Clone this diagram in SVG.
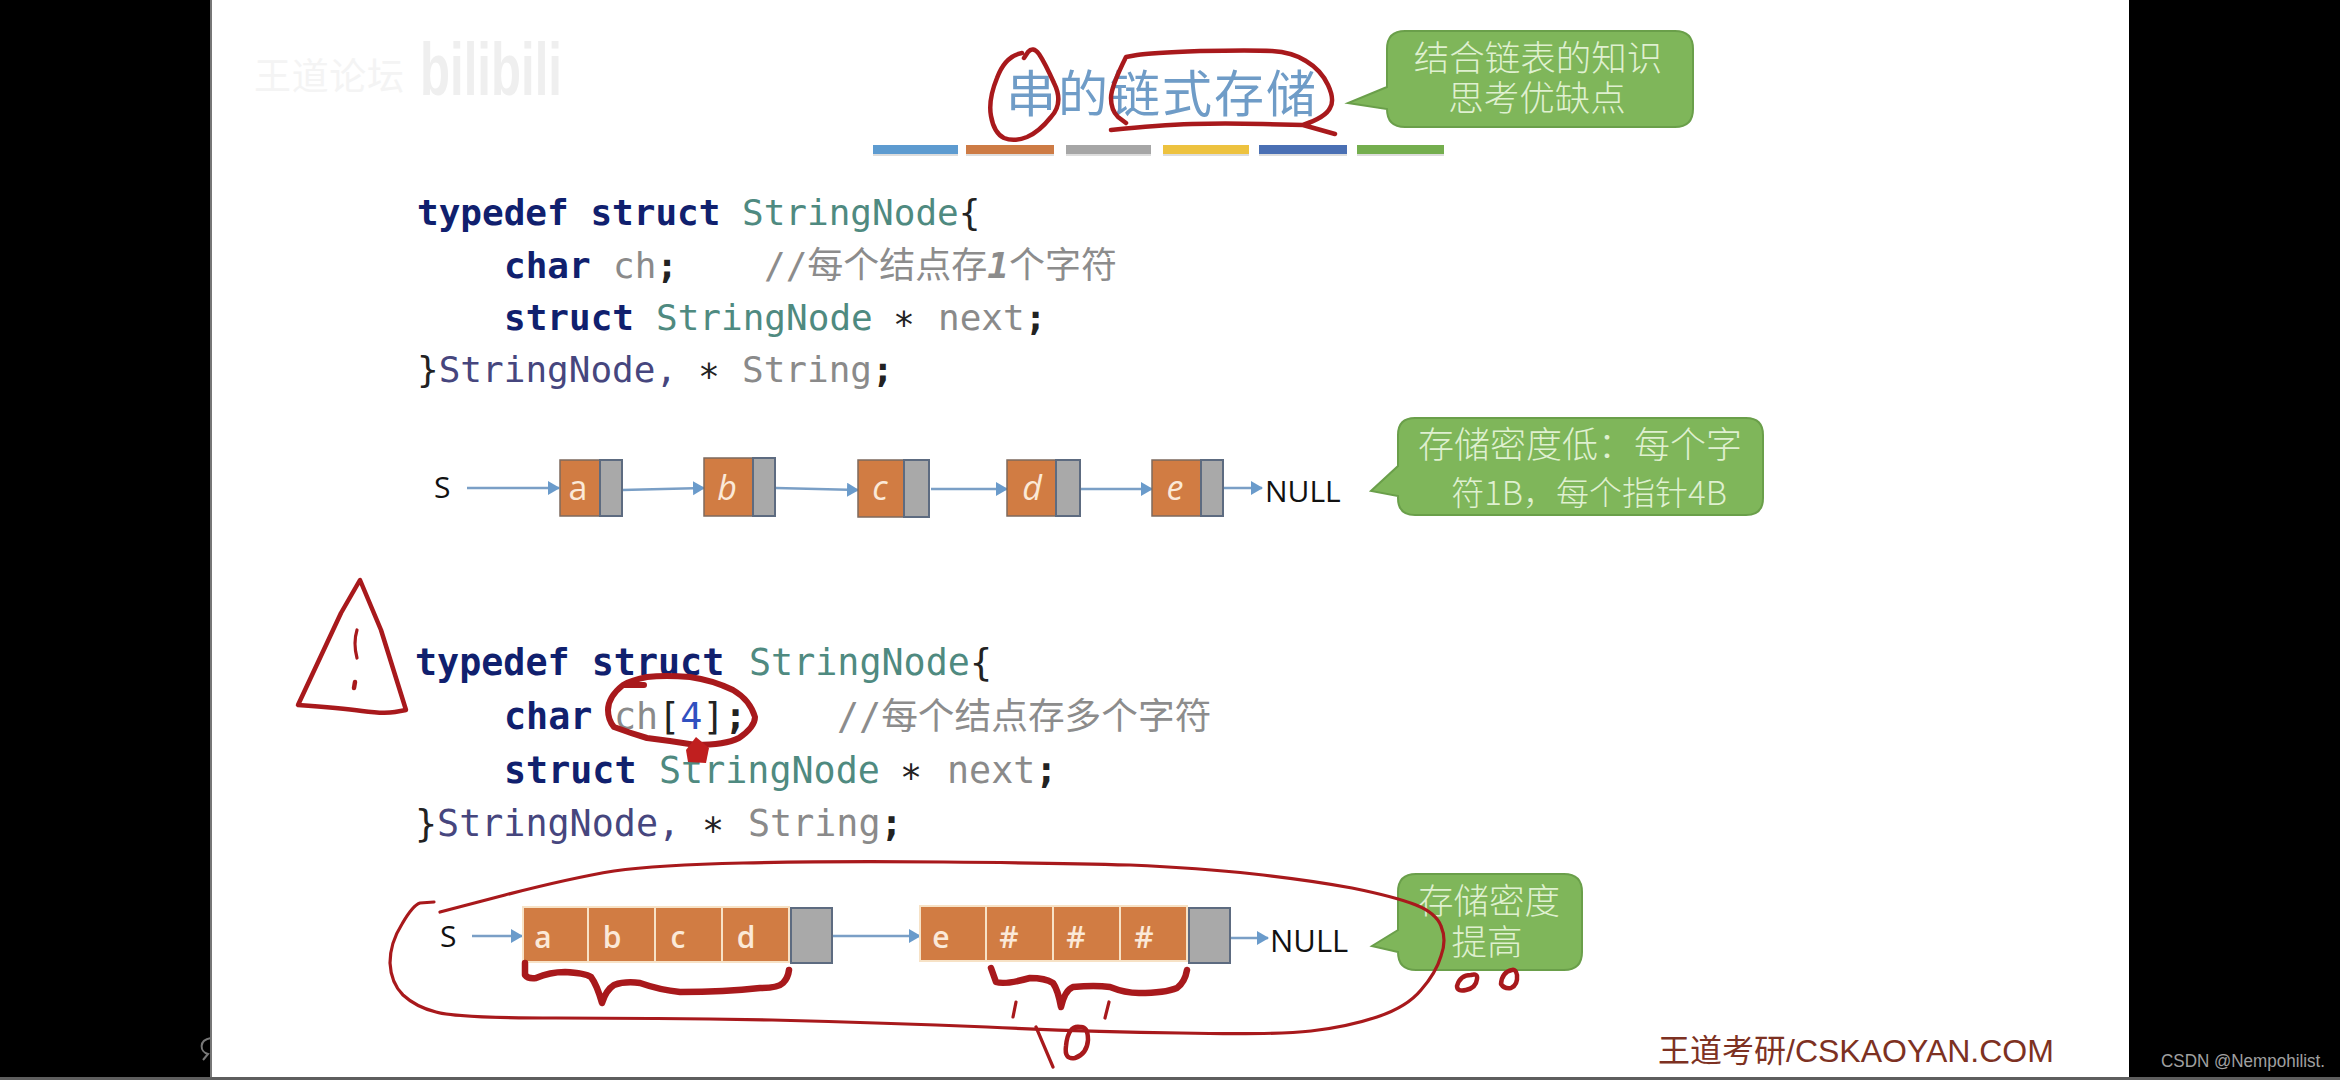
<svg xmlns="http://www.w3.org/2000/svg" width="2340" height="1080" viewBox="0 0 2340 1080">
<style>
.code{font-family:"DejaVu Sans Mono","Noto Sans CJK SC",monospace;font-size:36px}
.code2{font-size:36.7px}
.k{fill:#10206e;font-weight:bold}
.t{fill:#4f8a80}
.v{fill:#8a8a8a}
.n{fill:#46467e}
.p{fill:#222}
.c{fill:#8c8c8c}
.cjk{font-family:"Noto Sans CJK SC","Noto Sans",sans-serif}
.call{fill:#7fb65a;stroke:#6a9f4a;stroke-width:2}
.callt{font-family:"Noto Sans CJK SC","Noto Sans",sans-serif;font-size:35.5px;fill:#dff0d0;text-anchor:middle;font-weight:300}
.or{fill:#d17c43;stroke:#7e6a5e;stroke-width:1.5}
.or2{fill:#d17c43;stroke:#f7e2c6;stroke-width:2}
.gr{fill:#a9a9a9;stroke:#5d6b80;stroke-width:2}
.lt{font-family:"Open Sans","Noto Sans",sans-serif;font-size:30px;fill:#fbe9d8;text-anchor:middle}
.lt1{font-size:34px}
.lb{font-family:"Open Sans","Noto Sans",sans-serif;font-size:30px;fill:#111}
.ar{stroke:#7a9fc6;stroke-width:2.5;fill:none;marker-end:url(#ah)}
.red{fill:none;stroke:#a8191c;stroke-width:4.5;stroke-linecap:round;stroke-linejoin:round}
.thin{stroke-width:3.2}
.thick{stroke-width:6.5}
</style>
<defs>
<marker id="ah" markerUnits="userSpaceOnUse" markerWidth="12" markerHeight="16" refX="11" refY="7" orient="auto"><path d="M0,0 L12,7 L0,14 Z" fill="#6a9bcb"/></marker>
</defs>
<rect width="2340" height="1080" fill="#000"/>
<rect x="211" y="0" width="1918" height="1078" fill="#fff"/>
<rect x="210" y="0" width="2" height="1078" fill="#777"/>
<rect x="0" y="1077" width="2340" height="3" fill="#5e5e5e"/>
<path d="M211,1038 C198,1040 200,1052 208,1054 L203,1060" fill="none" stroke="#777" stroke-width="2"/>

<g id="logo">
<text x="254" y="90" class="cjk" font-size="37" fill="#f4f4f4" textLength="150">王道论坛</text>
<text x="420" y="95" font-family="Liberation Sans,sans-serif" font-weight="bold" font-size="74" fill="#efefef" textLength="142" lengthAdjust="spacingAndGlyphs">bilibili</text>
</g>

<g id="title">
<text x="1006" y="112" class="cjk" font-size="50" fill="#6f9cc7" textLength="310">串的链式存储</text>
<rect x="873" y="147" width="85" height="9" fill="#ddd"/><rect x="873" y="145" width="85" height="9" fill="#5d9bd0"/>
<rect x="966" y="147" width="88" height="9" fill="#ddd"/><rect x="966" y="145" width="88" height="9" fill="#cd7b45"/>
<rect x="1066" y="147" width="85" height="9" fill="#ddd"/><rect x="1066" y="145" width="85" height="9" fill="#a6a6a6"/>
<rect x="1163" y="147" width="86" height="9" fill="#ddd"/><rect x="1163" y="145" width="86" height="9" fill="#edc23f"/>
<rect x="1259" y="147" width="88" height="9" fill="#ddd"/><rect x="1259" y="145" width="88" height="9" fill="#4a70b4"/>
<rect x="1357" y="147" width="87" height="9" fill="#ddd"/><rect x="1357" y="145" width="87" height="9" fill="#74ae4e"/>
</g>

<g id="callout-1">
<path class="call" d="M1405,31 H1675 Q1693,31 1693,49 V109 Q1693,127 1675,127 H1405 Q1387,127 1387,109 L1348,103 L1387,87 V49 Q1387,31 1405,31 Z"/>
<text x="1538" y="71" class="callt">结合链表的知识</text>
<text x="1537" y="111" class="callt">思考优缺点</text>
</g>

<g id="code-1" class="code">
<text x="417" y="225"><tspan class="k">typedef struct</tspan><tspan class="t" x="742">StringNode</tspan><tspan class="p">{</tspan></text>
<text x="504" y="278"><tspan class="k">char</tspan><tspan class="v" x="613">ch</tspan><tspan class="p" font-weight="bold">;</tspan><tspan class="c" x="764">//每个结点存<tspan font-style="italic" font-weight="bold">1</tspan>个字符</tspan></text>
<text x="504" y="330"><tspan class="k">struct</tspan><tspan class="t" x="656">StringNode</tspan><tspan class="p" x="893">∗</tspan><tspan class="v" x="938">next</tspan><tspan class="p" font-weight="bold">;</tspan></text>
<text x="417" y="382"><tspan class="p">}</tspan><tspan class="n">StringNode,</tspan><tspan class="p" x="698">∗</tspan><tspan class="v" x="742">String</tspan><tspan class="p" font-weight="bold">;</tspan></text>
</g>

<g id="code-2" class="code code2">
<text x="415" y="675"><tspan class="k">typedef struct</tspan><tspan class="t" x="749">StringNode</tspan><tspan class="p">{</tspan></text>
<text x="504" y="729"><tspan class="k">char</tspan><tspan class="v" x="614">ch</tspan><tspan class="p">[</tspan><tspan fill="#3050c0">4</tspan><tspan class="p">]</tspan><tspan class="p" font-weight="bold">;</tspan><tspan class="c" x="837">//每个结点存多个字符</tspan></text>
<text x="504" y="783"><tspan class="k">struct</tspan><tspan class="t" x="659">StringNode</tspan><tspan class="p" x="900">∗</tspan><tspan class="v" x="947">next</tspan><tspan class="p" font-weight="bold">;</tspan></text>
<text x="415" y="836"><tspan class="p">}</tspan><tspan class="n">StringNode,</tspan><tspan class="p" x="702">∗</tspan><tspan class="v" x="748">String</tspan><tspan class="p" font-weight="bold">;</tspan></text>
</g>

<g id="connectors">
<path class="ar" d="M467,488 H559"/>
<path class="ar" d="M622,490 L704,488"/>
<path class="ar" d="M776,488 L858,490"/>
<path class="ar" d="M931,489 H1007"/>
<path class="ar" d="M1080,489 H1152"/>
<path class="ar" d="M1223,488 H1262"/>
<path class="ar" d="M472,936 H522"/>
<path class="ar" d="M833,936 H920"/>
<path class="ar" d="M1230,938 H1268"/>
</g>

<g id="list-1">
<text x="434" y="498" class="lb">S</text>
<g id="n1a"><rect class="or" x="560" y="460" width="40" height="56"/><rect class="gr" x="600" y="460" width="22" height="56"/><text x="578" y="500" class="lt lt1">a</text></g>
<g id="n1b"><rect class="or" x="704" y="458" width="49" height="58"/><rect class="gr" x="753" y="458" width="22" height="58"/><text x="727" y="500" class="lt lt1" font-style="italic">b</text></g>
<g id="n1c"><rect class="or" x="858" y="460" width="46" height="57"/><rect class="gr" x="904" y="460" width="25" height="57"/><text x="880" y="500" class="lt lt1" font-style="italic">c</text></g>
<g id="n1d"><rect class="or" x="1007" y="460" width="49" height="56"/><rect class="gr" x="1056" y="460" width="24" height="56"/><text x="1032" y="500" class="lt lt1" font-style="italic">d</text></g>
<g id="n1e"><rect class="or" x="1152" y="460" width="49" height="56"/><rect class="gr" x="1201" y="460" width="22" height="56"/><text x="1175" y="500" class="lt lt1" font-style="italic">e</text></g>
<text x="1265" y="502" class="lb">NULL</text>
</g>

<g id="callout-2">
<path class="call" d="M1415,418 H1746 Q1763,418 1763,435 V498 Q1763,515 1746,515 H1415 Q1398,515 1398,498 V496 L1371,491 L1398,466 V435 Q1398,418 1415,418 Z"/>
<text x="1580" y="458" class="callt" style="font-size:36px">存储密度低：每个字</text>
<text x="1589" y="505" class="callt" style="font-size:33px">符1B，每个指针4B</text>
</g>

<g id="list-2">
<text x="440" y="947" class="lb">S</text>
<g id="n2a">
<rect class="or2" x="523" y="907" width="65" height="55"/><rect class="or2" x="588" y="907" width="67" height="55"/><rect class="or2" x="655" y="907" width="67" height="55"/><rect class="or2" x="722" y="907" width="67" height="55"/><rect class="gr" x="791" y="908" width="41" height="55"/>
<text x="543" y="948" class="lt" font-weight="600">a</text><text x="612" y="948" class="lt" font-weight="600">b</text><text x="678" y="948" class="lt" font-weight="600">c</text><text x="746" y="948" class="lt" font-weight="600">d</text>
</g>
<g id="n2b">
<rect class="or2" x="920" y="906" width="66" height="55"/><rect class="or2" x="986" y="906" width="67" height="55"/><rect class="or2" x="1053" y="906" width="67" height="55"/><rect class="or2" x="1120" y="906" width="67" height="55"/><rect class="gr" x="1189" y="908" width="41" height="55"/>
<text x="941" y="948" class="lt" font-weight="600">e</text><text x="1009" y="948" class="lt" font-weight="600">#</text><text x="1076" y="948" class="lt" font-weight="600">#</text><text x="1144" y="948" class="lt" font-weight="600">#</text>
</g>
<text x="1270" y="952" class="lb" style="font-size:31px">NULL</text>
</g>

<g id="callout-3">
<path class="call" d="M1416,874 H1564 Q1582,874 1582,892 V952 Q1582,970 1564,970 H1416 Q1398,970 1398,952 L1372,946 L1398,930 V892 Q1398,874 1416,874 Z"/>
<text x="1489" y="914" class="callt">存储密度</text>
<text x="1487" y="955" class="callt">提高</text>
</g>

<g id="footer">
<text x="1658" y="1062" class="cjk" font-size="32" fill="#7d3122">王道考研<tspan font-family="Liberation Sans,sans-serif">/CSKAOYAN.COM</tspan></text>
<text x="2161" y="1067" font-family="Liberation Sans,sans-serif" font-size="18" fill="#a0a0a0" textLength="164" lengthAdjust="spacingAndGlyphs">CSDN @Nempohilist.</text>
</g>

<g id="ink">
<path class="red" d="M1022,53 Q1005,56 997,78 Q988,100 991,116 Q994,133 1004,138 Q1014,142 1027,137 Q1039,132 1051,117 Q1064,103 1054,83 Q1045,63 1039,54 Q1033,46 1028,52 L1024,58"/>
<path class="red" d="M1111,130 Q1160,125 1192,124 Q1223,123 1263,124 L1303,125 L1335,134 M1303,125 Q1326,117 1330,108 Q1335,100 1328,85 Q1321,70 1306,61 Q1292,52 1272,51 Q1252,50 1200,51 Q1149,53 1137,55 L1126,57 Q1111,87 1111,98 Q1111,110 1118,117 L1126,123"/>
<path class="red" d="M360,580 L341,613 L298,705 Q341,708 362,711 Q384,714 395,712 L406,710 L381,630 L360,580 Z"/>
<path class="red thin" d="M357,630 Q353,643 357,658"/>
<path class="red" d="M355,682 L354,688"/>
<path class="red" style="stroke-width:6" d="M644,685 L623,685 Q608,697 608,710 Q608,720 614,727 Q630,733 647,738 Q672,741 696,745 Q725,745 739,738 Q755,727 755,717 Q750,700 733,690 Q712,680 690,677 Q665,675 647,677 Q632,680 623,685"/>
<path d="M696,737 L686,750 L688,762 L706,763 L709,748 Z" fill="#c01f1f"/>
<path class="red thin" d="M434,902 L420,903 Q413,905 402,924 Q390,943 390,963 Q391,983 403,995 Q416,1007 436,1012 Q456,1018 556,1018 Q657,1018 772,1020 Q887,1023 987,1027 Q1088,1032 1180,1033 Q1273,1035 1311,1031 Q1347,1027 1377,1017 Q1407,1007 1421,990 Q1436,973 1441,956 Q1447,940 1441,926 Q1436,913 1416,905 Q1396,897 1352,888 Q1309,880 1254,874 Q1200,868 1130,865 Q1059,863 944,862 Q829,861 743,863 Q657,865 614,871 Q571,878 505,895 L440,912"/>
<path class="red thick" d="M525,963 L525,975 Q528,979 536,978 Q550,972 565,972 Q585,973 591,977 Q597,985 602,1003 Q606,990 614,985 Q625,981 640,983 Q660,990 680,992 Q725,992 760,988 Q778,988 783,983 Q788,978 789,970"/>
<path class="red thick" d="M991,968 L996,982 Q1005,985 1030,978 Q1045,978 1053,983 Q1058,990 1061,1007 Q1065,990 1073,987 Q1095,985 1110,987 Q1125,993 1139,993 Q1165,993 1177,988 Q1185,982 1187,970"/>
<path class="red thin" d="M1016,1002 L1013,1017 M1109,1002 L1105,1018 M1036,1027 L1053,1067"/>
<path class="red" d="M1080,1027 Q1068,1025 1066,1046 Q1064,1060 1075,1058 Q1087,1054 1088,1040 Q1088,1026 1080,1027 Z"/>
<path class="red" d="M1471,975 Q1460,975 1457,986 Q1457,992 1466,990 Q1476,988 1477,979 Q1478,973 1471,975 Z"/>
<path class="red" d="M1512,970 Q1502,972 1501,984 Q1504,989 1511,988 Q1518,985 1517,975 Q1516,969 1512,970 Z"/>
</g>
</svg>
